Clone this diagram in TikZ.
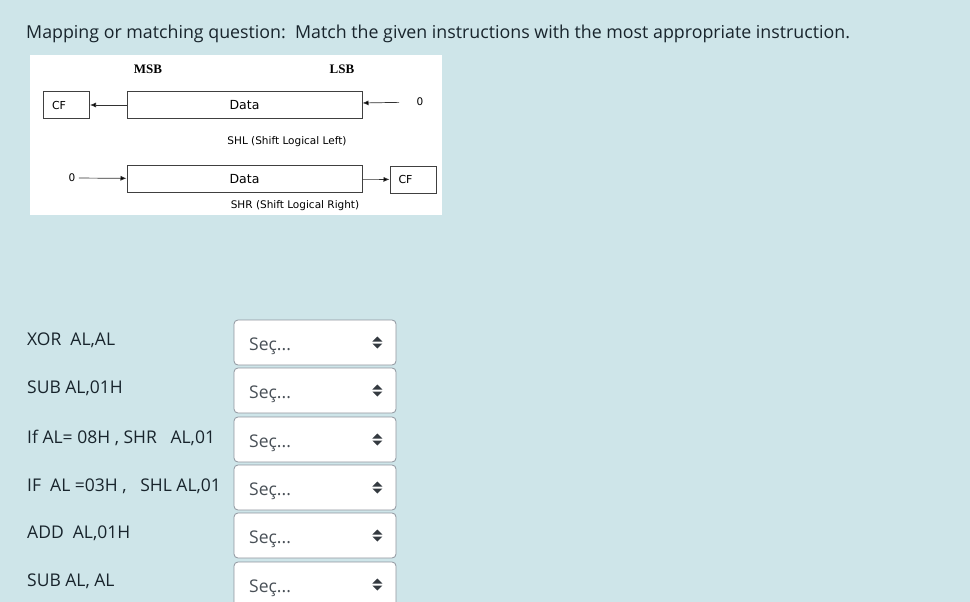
\documentclass[tikz,border=0pt]{standalone}
\usepackage{fontspec}
\setmainfont{Open Sans}
\newfontfamily\diagfont{DejaVu Sans}
\newfontfamily\bitfont{Liberation Serif}
\usepackage{tikz}
\usetikzlibrary{arrows.meta}
\usetikzlibrary{positioning}

\definecolor{pagebg}{RGB}{206,229,233}
\definecolor{textdark}{RGB}{24,36,44}
\definecolor{selborder}{RGB}{143,149,158}
\definecolor{seltext}{RGB}{73,80,87}
\definecolor{icondark}{RGB}{52,58,64}
\definecolor{wireline}{RGB}{50,50,50}

\tikzset{
  regbox/.style={draw=black!75, line width=1pt, inner sep=0pt, minimum height=27pt,
    font=\diagfont\fontsize{12.5}{14}\selectfont},
  flagbox/.style={draw=black!75, line width=1pt, inner ysep=0pt, inner xsep=8.5pt, minimum height=27pt,
    text width=29pt, align=left, font=\diagfont\fontsize{11}{12}\selectfont},
  wire/.style={->, >={Latex[length=6pt,width=5pt]}, draw=wireline, line width=0.7pt},
  caption/.style={font=\diagfont\fontsize{10.5}{12}\selectfont},
  bitlabel/.style={font=\bitfont\bfseries\fontsize{13}{15}\selectfont},
  instr/.style={anchor=west, inner sep=0pt, text=textdark, font=\fontsize{17.5}{20}\selectfont},
  selbox/.style={draw=selborder, fill=white, rounded corners=4pt, line width=0.8pt,
    minimum width=162pt, minimum height=45pt},
  seltxt/.style={anchor=west, inner sep=0pt, text=seltext, font=\fontsize{17.5}{20}\selectfont}
}

% small up/down triangles of a select field
\newcommand{\selicon}[1]{%
  \fill[icondark] ([xshift=-24pt,yshift=1pt]#1.east) -- ([xshift=-14pt,yshift=1pt]#1.east)
    -- ([xshift=-19pt,yshift=6pt]#1.east) -- cycle;
  \fill[icondark] ([xshift=-24pt,yshift=-1pt]#1.east) -- ([xshift=-14pt,yshift=-1pt]#1.east)
    -- ([xshift=-19pt,yshift=-6pt]#1.east) -- cycle;}

\begin{document}
\begin{tikzpicture}[x=1pt, y=-1pt]
    \useasboundingbox (0,0) rectangle (970,602);
    \clip (0,0) rectangle (970,602);
    \fill[pagebg] (0,0) rectangle (970,602);

    % question
    \node[anchor=west, inner sep=0pt, text=textdark, font=\fontsize{17.8}{20}\selectfont] (question) at (26,33.5)
      {Mapping or matching question:\ \ Match the given instructions with the most appropriate instruction.};

    % shift picture
    \fill[white] (30,55) rectangle (442,215);
    \node[bitlabel] (msb) at (148,69) {MSB};
    \node[bitlabel] (lsb) at (342,69) {LSB};
    \node[flagbox] (cfL) at (66.5,105) {CF};
    \node[regbox, minimum width=235pt] (dataL) at (244.5,105) {Data};
    \node[caption] (zeroL) at (420,102) {0};
    \node[caption] (shl) at (287,142) {SHL (Shift Logical Left)};
    \node[caption] (zeroR) at (72,178) {0};
    \node[regbox, minimum width=235pt] (dataR) at (244.5,179) {Data};
    \node[flagbox] (cfR) at (413,179.5) {CF};
    \node[caption] (shr) at (295,206) {SHR (Shift Logical Right)};
    \path [wire] (dataL) edge (cfL);
    \path [wire, shorten <=14pt] (zeroL) edge (dataL);
    \path [wire] (zeroR) edge (dataR);
    \path [wire] (dataR) edge (cfR);

    % instructions
    \node[instr] (i1) at (27,340) {XOR\ \ AL,AL};
    \node[instr] (i2) at (27,388) {SUB AL,01H};
    \node[instr] (i3) at (27,438) {If AL= 08H , SHR\ \ \ AL,01};
    \node[instr] (i4) at (27,486) {IF\ \ AL =03H ,\ \ \ SHL AL,01};
    \node[instr] (i5) at (27,533) {ADD\ \ AL,01H};
    \node[instr] (i6) at (27,581) {SUB AL, AL};

    % select fields
    \node[selbox] (s1) at (315,342.5) {};
    \node[selbox] (s2) at (315,390.5) {};
    \node[selbox] (s3) at (315,439.5) {};
    \node[selbox] (s4) at (315,487.5) {};
    \node[selbox] (s5) at (315,535.5) {};
    \node[selbox] (s6) at (315,584.5) {};
    \node[seltxt] (t1) at (249,346) {Seç...};
    \node[seltxt] (t2) at (249,394) {Seç...};
    \node[seltxt] (t3) at (249,443) {Seç...};
    \node[seltxt] (t4) at (249,491) {Seç...};
    \node[seltxt] (t5) at (249,539) {Seç...};
    \node[seltxt] (t6) at (249,588) {Seç...};
    \selicon{s1}
    \selicon{s2}
    \selicon{s3}
    \selicon{s4}
    \selicon{s5}
    \selicon{s6}
\end{tikzpicture}
\end{document}
